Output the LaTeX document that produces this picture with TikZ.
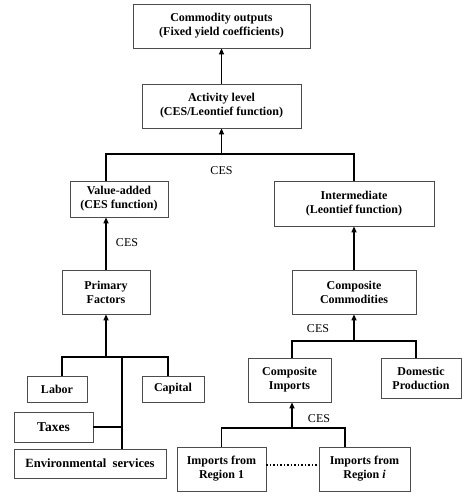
\documentclass[tikz,border=0pt]{standalone}
\usepackage{fontspec}
\setmainfont{Liberation Serif}
\usetikzlibrary{arrows.meta}
\begin{document}
\begin{tikzpicture}[x=1pt,y=-1pt,
  box/.style={draw=black!70,line width=0.8pt,align=center,inner sep=0pt,
    font=\bfseries\fontsize{12}{14}\selectfont},
  conn/.style={line width=1.7pt},
  arr/.style={line width=1.7pt,-{Triangle[length=6pt,width=5pt]}},
  lbl/.style={font=\fontsize{12}{14}\selectfont,inner sep=0pt}]
\useasboundingbox (0,0) rectangle (474,498);
\node[box,minimum width=177pt,minimum height=44pt] (out) at (221.5,26) {Commodity outputs\\(Fixed yield coefficients)};
\node[box,minimum width=159pt,minimum height=44pt] (act) at (221.5,106) {Activity level\\(CES/Leontief function)};
\node[box,minimum width=98pt,minimum height=36pt] (va) at (119,199) {Value-added\\(CES function)};
\node[box,minimum width=160pt,minimum height=45pt] (int) at (354,203.5) {Intermediate\\(Leontief function)};
\node[box,minimum width=88pt,minimum height=44pt] (pf) at (106,292) {Primary\\Factors};
\node[box,minimum width=124pt,minimum height=44pt] (cc) at (354,292) {Composite\\Commodities};
\node[box,minimum width=60pt,minimum height=26pt] (lab) at (57,389) {Labor};
\node[box,minimum width=62pt,minimum height=26pt] (cap) at (173,389) {Capital};
\node[box,minimum width=79pt,minimum height=30pt,font=\bfseries\fontsize{13.5}{15}\selectfont] (tax) at (53.5,427) {Taxes};
\node[box,minimum width=152pt,minimum height=29pt,font=\bfseries\fontsize{12.6}{14}\selectfont] (env) at (90,463.5) {Environmental\ \ services};
\node[box,minimum width=83pt,minimum height=44pt] (ci) at (289.5,380) {Composite\\Imports};
\node[box,minimum width=80pt,minimum height=40pt] (dom) at (421,378) {Domestic\\Production};
\node[box,minimum width=89pt,minimum height=44pt] (r1) at (221.5,469) {Imports from\\Region 1};
\node[box,minimum width=91pt,minimum height=44pt] (ri) at (364.5,469) {Imports from\\Region \textit{i}};
\node[lbl] (ces1) at (221.5,171) {CES};
\node[lbl] (ces2) at (127,243) {CES};
\node[lbl] (ces3) at (318,329) {CES};
\node[lbl] (ces4) at (319,419) {CES};
\coordinate (jl) at (106,154);
\coordinate (jr) at (354,154);
\coordinate (bL) at (62,357);
\coordinate (bM) at (122,357);
\coordinate (bR) at (168,357);
\coordinate (bC) at (106,357);
\coordinate (cL) at (292,341);
\coordinate (cR) at (416,341);
\coordinate (dL) at (221.5,428);
\coordinate (dM) at (292,428);
\coordinate (dR) at (345,428);
\coordinate (dot1) at (266,465);
\coordinate (dot2) at (319,465);
\draw[arr] (act.north) -- (out.south);
\draw[arr] (act.south |- jl) -- (act.south);
\draw[conn] (va.north -| jl) -- (jl) -- (jr) -- (int.north -| jr);
\draw[arr] (pf.north) -- (pf.north |- va.south);
\draw[arr] (cc.north) -- (int.south);
\draw[arr] (bC) -- (pf.south);
\draw[conn] (lab.north -| bL) -- (bL) -- (bR) -- (cap.north -| bR);
\draw[conn] (bM) -- (env.north -| bM);
\draw[conn] (tax.east) -- (tax.east -| bM);
\draw[arr] (cc.south |- cL) -- (cc.south);
\draw[conn] (ci.north -| cL) -- (cL) -- (cR) -- (dom.north -| cR);
\draw[conn] (r1.north) -- (dL) -- (dR) -- (ri.north -| dR);
\draw[arr] (dM) -- (ci.south -| dM);
\draw[line width=1.5pt,dotted] (r1.east |- dot1) -- (ri.west |- dot2);
\end{tikzpicture}
\end{document}
